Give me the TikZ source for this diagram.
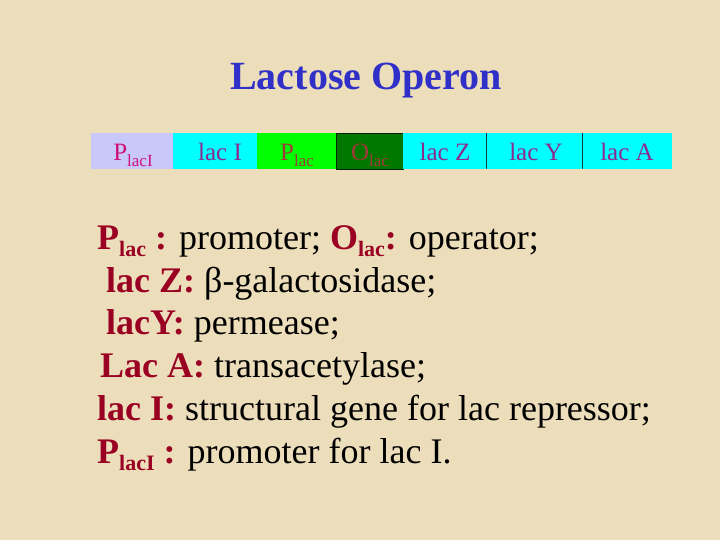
\documentclass[tikz,border=0pt]{standalone}
\usepackage{fontspec}
\setmainfont{Liberation Serif}
\definecolor{bgc}{HTML}{EDDEBB}
\definecolor{titlec}{HTML}{3030C8}
\definecolor{labc}{HTML}{990022}
\definecolor{lavc}{HTML}{C8C8FA}
\definecolor{cyanc}{HTML}{00FFFF}
\definecolor{greenc}{HTML}{00FF00}
\definecolor{dgreenc}{HTML}{007800}
\definecolor{pinkt}{HTML}{CC1177}
\definecolor{purpt}{HTML}{8E2A8E}
\definecolor{brownt}{HTML}{A03A3A}
\definecolor{sepc}{HTML}{1A3A3A}
\newcommand{\bsub}[1]{\raisebox{-0.22em}{\fontsize{22}{22}\selectfont\bfseries #1}}
\newcommand{\rsub}[1]{\raisebox{-0.22em}{\fontsize{17}{17}\selectfont #1}}
\begin{document}
\begin{tikzpicture}[x=1pt,y=-1pt,
  genebox/.style={minimum height=36pt,inner sep=0pt,outer sep=0pt},
  boxlab/.style={anchor=base,inner sep=0pt,font=\fontsize{25}{25}\selectfont},
  line/.style={anchor=base west,inner sep=0pt,font=\fontsize{36}{36}\selectfont},
  lab/.style={text=labc,font=\bfseries}]
\fill[bgc] (0,0) rectangle (720,540);
\useasboundingbox (0,0) rectangle (720,540);
% title
\node[anchor=base,inner sep=0pt,text=titlec,font=\fontsize{40}{40}\selectfont\bfseries] (title) at (366,90) {Lactose Operon};
% gene boxes
\node[genebox,fill=lavc,minimum width=82pt,anchor=north west] (p1) at (91,133) {};
\node[genebox,fill=cyanc,minimum width=84pt,anchor=north west] (li) at (173,133) {};
\node[genebox,fill=greenc,minimum width=79pt,anchor=north west] (pl) at (257,133) {};
\node[genebox,fill=dgreenc,draw=black!70!dgreenc,line width=0.8pt,minimum width=67pt,anchor=north west] (ol) at (336,133) {};
\node[genebox,fill=cyanc,minimum width=83pt,anchor=north west] (lz) at (403,133) {};
\node[genebox,fill=cyanc,minimum width=96pt,anchor=north west] (ly) at (486,133) {};
\node[genebox,fill=cyanc,minimum width=90pt,anchor=north west] (la) at (582,133) {};
\draw[sepc,line width=0.8pt] (lz.north east) -- (lz.south east);
\draw[sepc,line width=0.8pt] (ly.north east) -- (ly.south east);
% box labels
\node[boxlab,text=pinkt] (t1) at (133,161) {P\rsub{lacI}};
\node[boxlab,text=purpt] (t2) at (220,161) {lac I};
\node[boxlab,text=brownt] (t3) at (297,161) {P\rsub{lac}};
\node[boxlab,text=brownt] (t4) at (370,161) {O\rsub{lac}};
\node[boxlab,text=purpt] (t5) at (445,161) {lac Z};
\node[boxlab,text=purpt] (t6) at (536,161) {lac Y};
\node[boxlab,text=purpt] (t7) at (627,161) {lac A};
% legend text
\node[line] (l1) at (97,249) {\textcolor{labc}{\bfseries P\bsub{lac}} \textcolor{labc}{\bfseries :} promoter; \textcolor{labc}{\bfseries O\bsub{lac}:} operator;};
\node[line] (l2) at (106,292) {\textcolor{labc}{\bfseries lac Z:} β-galactosidase;};
\node[line] (l3) at (106,334) {\textcolor{labc}{\bfseries lacY:} permease;};
\node[line] (l4) at (100,377) {\textcolor{labc}{\bfseries Lac A:} transacetylase;};
\node[line] (l5) at (97,420) {\textcolor{labc}{\bfseries lac I:} structural gene for lac repressor;};
\node[line] (l6) at (97,463) {\textcolor{labc}{\bfseries P\bsub{lacI}} \textcolor{labc}{\bfseries :} promoter for lac I.};
\end{tikzpicture}
\end{document}
